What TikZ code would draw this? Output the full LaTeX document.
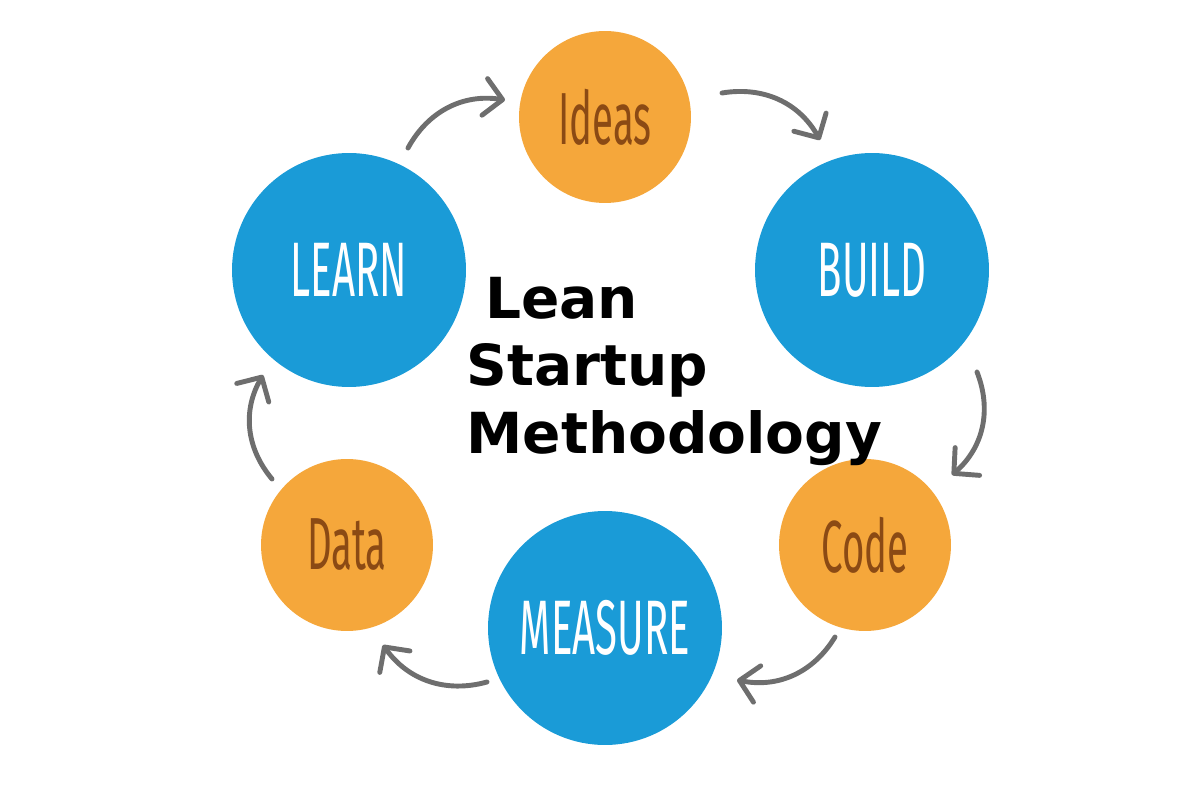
\documentclass[tikz,border=0pt]{standalone}
\usepackage{fontspec}
\usepackage{tikz}
\usetikzlibrary{arrows.meta}
\newfontfamily\titlefont{DejaVu Sans}
\newfontfamily\handfont{Fira Sans}
\definecolor{leanblue}{RGB}{26,155,215}
\definecolor{leanorange}{RGB}{245,167,59}
\definecolor{leanbrown}{RGB}{139,74,20}
\definecolor{leangray}{RGB}{110,110,110}
\newcommand{\handtext}[1]{\scalebox{0.52}[1]{#1}}

\begin{document}
\begin{tikzpicture}[x=0.02cm,y=-0.02cm,
    bigcirc/.style={circle,fill=leanblue,minimum size=4.68cm,inner sep=0pt,
        text=white,font=\handfont\fontsize{44}{44}\selectfont},
    smallcirc/.style={circle,fill=leanorange,minimum size=3.44cm,inner sep=0pt,
        text=leanbrown,font=\handfont\fontsize{42}{42}\selectfont},
    cyclearrow/.style={line width=2.8pt,leangray,line cap=round,
        -{Straight Barb[length=3.6mm,width=7.4mm,round]}}]
    \useasboundingbox (0,0) rectangle (1200,800);

    % Draw the circles
    \node[smallcirc] (ideas) at (605,117) {\handtext{Ideas}};
    \node[bigcirc] (build) at (872,270) {\handtext{BUILD}};
    \node[smallcirc] (code) at (865,545) {\handtext{Code}};
    \node[bigcirc] (measure) at (605,628) {\handtext{MEASURE}};
    \node[smallcirc] (data) at (347,545) {\handtext{Data}};
    \node[bigcirc] (learn) at (349,270) {\handtext{LEARN}};

    % Arrow ends between the circles
    \coordinate (learnout) at (408,148);
    \coordinate (ideasin) at (505,100);
    \coordinate (ideasout) at (722,93);
    \coordinate (buildin) at (820,140);
    \coordinate (buildout) at (977,372);
    \coordinate (codein) at (952,475);
    \coordinate (codeout) at (835,637);
    \coordinate (measurein) at (737,680);
    \coordinate (measureout) at (487,682);
    \coordinate (datain) at (383,645);
    \coordinate (dataout) at (272,479);
    \coordinate (learnin) at (263,375);

    % Draw the cycle arrows
    \draw[cyclearrow] (learnout) to[bend left=35] (ideasin);
    \draw[cyclearrow] (ideasout) to[bend left=35] (buildin);
    \draw[cyclearrow] (buildout) to[bend left=35] (codein);
    \draw[cyclearrow] (codeout) to[bend left=35] (measurein);
    \draw[cyclearrow] (measureout) to[bend left=35] (datain);
    \draw[cyclearrow] (dataout) to[bend left=35] (learnin);

    % Title in the middle
    \node[anchor=north west,inner sep=0pt,align=left,
        font=\titlefont\bfseries\fontsize{32.2}{38.3}\selectfont] (title) at (466,277)
        {\hspace*{0.33em}Lean\\Startup\\Methodology};
\end{tikzpicture}
\end{document}
